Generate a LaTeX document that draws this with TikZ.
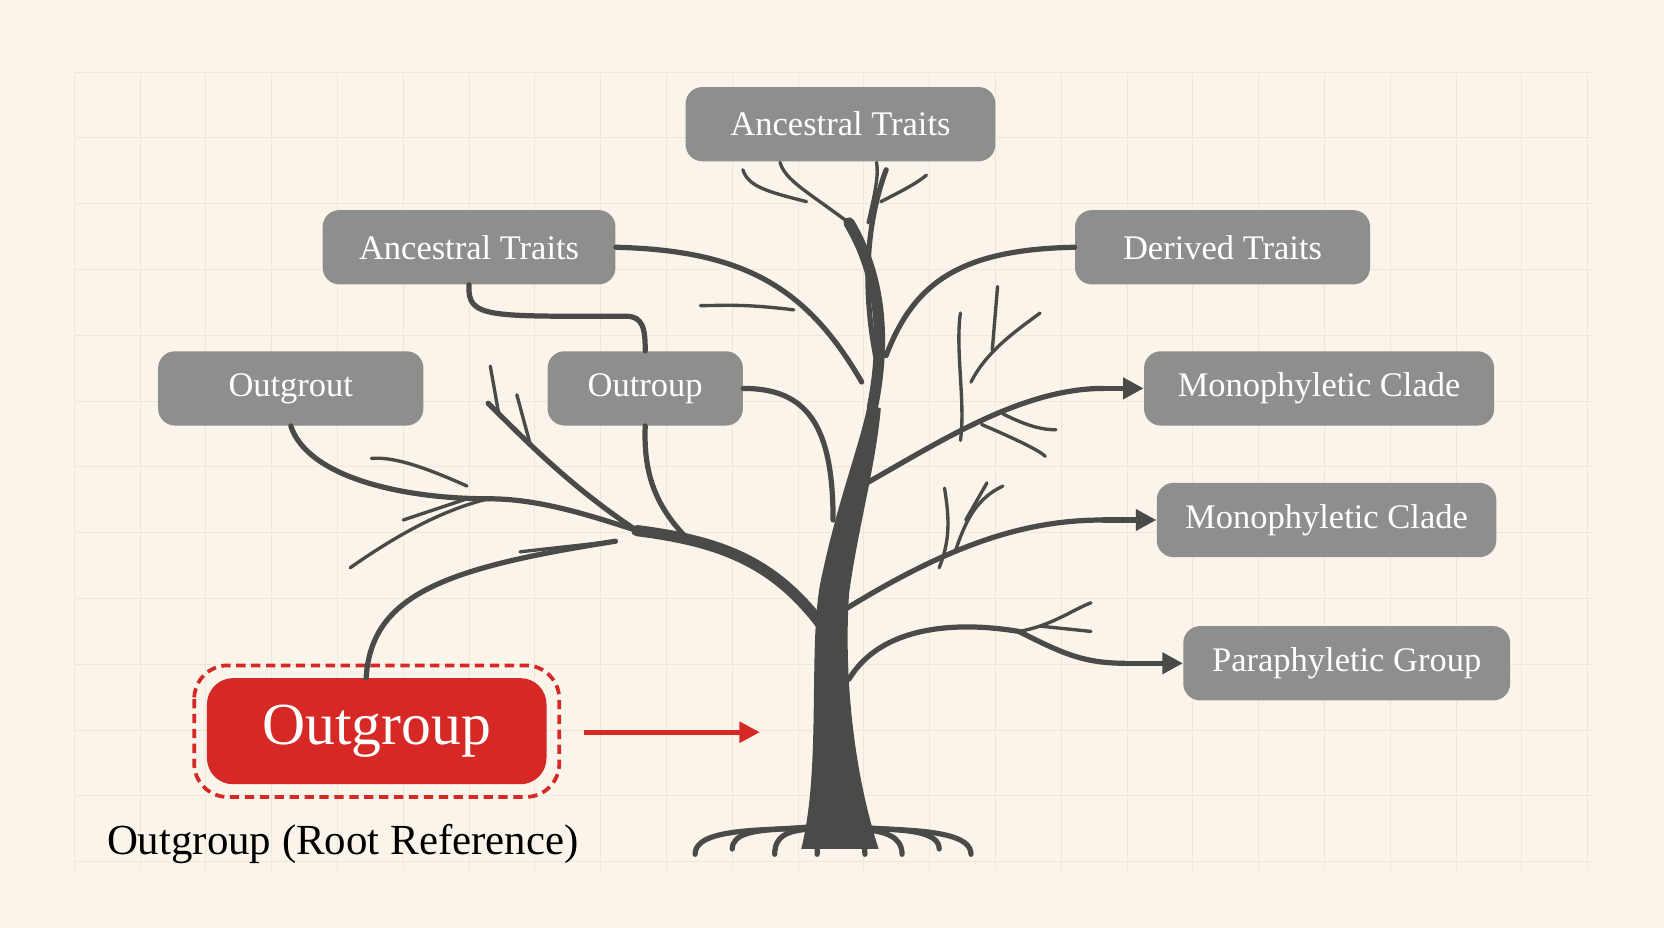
\documentclass[tikz,border=0pt]{standalone}
\usepackage{fontspec}
\setmainfont{Liberation Serif}
\usepackage{tikz}
\usetikzlibrary{arrows.meta,positioning}
\definecolor{paper}{RGB}{250,244,234}
\definecolor{gridline}{RGB}{236,230,220}
\definecolor{boxgray}{RGB}{142,142,140}
\definecolor{bark}{RGB}{74,74,72}
\definecolor{alertred}{RGB}{214,40,36}

\tikzset{
  trait/.style={fill=boxgray, rounded corners=9pt, text=white, minimum height=1.4cm,
    font=\fontsize{18.5}{22}\selectfont, inner sep=0pt},
  limb/.style={draw=bark, line width=2.8pt, line cap=round},
  twig/.style={draw=bark, line width=1.8pt, line cap=round},
  bough/.style={draw=bark, line width=6pt, line cap=round},
  pointer/.style={-{Triangle[length=11pt,width=11pt]}}
}

\begin{document}
\begin{tikzpicture}[x=0.02cm, y=-0.02cm]
    % paper and grid
    \fill[paper] (0,0) rectangle (1568,874);
    \foreach \gx in {70,132,...,1500} \draw[gridline, line width=0.5pt] (\gx,68) -- (\gx,820);
    \foreach \gy in {68,130,...,820} \draw[gridline, line width=0.5pt] (70,\gy) -- (1500,\gy);

    % labels
    \node[trait, minimum width=5.84cm] (topanc) at (792,117) {Ancestral Traits};
    \node[trait, minimum width=5.52cm] (leftanc) at (442,233) {Ancestral Traits};
    \node[trait, minimum width=5.56cm] (derived) at (1152,233) {Derived Traits};
    \node[trait, minimum width=5.0cm] (outgrout) at (274,366) {Outgrout};
    \node[trait, minimum width=3.68cm] (outroup) at (608,366) {Outroup};
    \node[trait, minimum width=6.6cm] (monoA) at (1243,366) {Monophyletic Clade};
    \node[trait, minimum width=6.4cm] (monoB) at (1250,490) {Monophyletic Clade};
    \node[trait, minimum width=6.16cm] (para) at (1269,625) {Paraphyletic Group};

    % outgroup root
    \node[fill=alertred, rounded corners=14pt, text=white, minimum width=6.4cm, minimum height=2cm,
      font=\fontsize{32}{36}\selectfont] (outgroup) at (355,689) {Outgroup};
    \draw[alertred, line width=2pt, dash pattern=on 5pt off 3pt, rounded corners=18pt] (183,627) rectangle (527,751);
    \node[font=\fontsize{23}{27}\selectfont] (caption) at (323,795) {Outgroup (Root Reference)};
    \coordinate (base) at (716,690);
    \draw[alertred, line width=2.5pt, pointer] (550,690) -- (base);

    % trunk
    \fill[bark] (755,800) .. controls (775,720) and (760,600) .. (775,540)
      .. controls (790,470) and (810,420) .. (818,380)
      -- (830,385) .. controls (825,440) and (808,500) .. (800,560)
      .. controls (795,640) and (805,730) .. (828,800) -- cycle;
    \draw[bough] (822,384) .. controls (835,320) and (830,260) .. (800,210);
    \draw[limb] (826,340) .. controls (810,260) and (820,200) .. (835,160);
    % roots
    \foreach \rx/\ry in {655/805,690/800,730/805,770/805,815/805,850/805,885/800,915/805}
      \draw[limb] (790,770) .. controls (780,790) and (\rx,770) .. (\rx,\ry);

    % left boughs
    \draw[bough] (775,590) .. controls (730,530) and (680,510) .. (600,500);
    \draw[limb] (600,500) .. controls (540,480) and (500,470) .. (460,470);
    \draw[limb] (outgrout.south) .. controls (290,450) and (380,470) .. (460,470);
    \draw[limb] (600,500) .. controls (540,460) and (500,420) .. (460,380);
    \draw[twig] (500,420) -- (487,372);
    \draw[twig] (470,390) -- (462,345);
    \draw[twig] (460,470) .. controls (420,480) and (380,500) .. (330,535);
    \draw[twig] (440,458) .. controls (400,440) and (370,430) .. (350,432);
    \draw[twig] (440,470) -- (380,490);
    \draw[twig] (580,510) -- (490,520);
    \draw[limb] (outgroup.north) ++(-10,0) .. controls (350,560) and (420,535) .. (580,510);
    \draw[limb] (outroup.south) .. controls (606,450) and (620,480) .. (650,510);
    \draw[limb] (outroup.east) .. controls (760,366) and (785,400) .. (785,490);
    \draw[limb] (leftanc.east) .. controls (700,236) and (760,270) .. (812,360);
    \draw[twig] (748,292) .. controls (700,286) and (680,288) .. (660,288);
    \draw[limb] (leftanc.south) .. controls (440,300) and (460,298) .. (590,298)
      .. controls (606,298) and (608,310) .. (outroup.north);

    % top twigs
    \draw[twig] (800,210) .. controls (760,180) and (740,170) .. (735,153);
    \draw[twig] (760,190) .. controls (720,180) and (705,175) .. (700,160);
    \draw[twig] (818,210) .. controls (825,180) and (828,165) .. (826,153);
    \draw[twig] (830,190) .. controls (850,180) and (865,172) .. (873,165);

    % right boughs
    \draw[limb] (derived.west) .. controls (900,235) and (860,270) .. (835,335);
    \draw[limb] (808,460) .. controls (880,420) and (960,366) .. (1040,366);
    \draw[limb, pointer] (1040,366) -- (monoA.west);
    \draw[twig] (905,415) .. controls (910,380) and (900,330) .. (905,295);
    \draw[twig] (915,360) .. controls (930,330) and (960,310) .. (980,295);
    \draw[twig] (935,330) -- (940,270);
    \draw[twig] (925,400) .. controls (960,415) and (980,425) .. (985,430);
    \draw[twig] (945,390) .. controls (965,400) and (980,405) .. (995,405);

    \draw[limb] (795,575) .. controls (900,510) and (970,490) .. (1040,490);
    \draw[limb, pointer] (1040,490) -- (monoB.west);
    \draw[twig] (885,535) .. controls (895,510) and (895,490) .. (890,460);
    \draw[twig] (900,520) .. controls (910,490) and (920,470) .. (945,458);
    \draw[twig] (910,490) -- (930,455);

    \draw[limb] (800,640) .. controls (830,590) and (900,585) .. (960,595)
      .. controls (1000,615) and (1020,625) .. (1060,625);
    \draw[limb, pointer] (1060,625) -- (para.west);
    \draw[twig] (960,595) .. controls (990,590) and (1010,575) .. (1028,568);
    \draw[twig] (980,590) -- (1028,595);
\end{tikzpicture}
\end{document}
